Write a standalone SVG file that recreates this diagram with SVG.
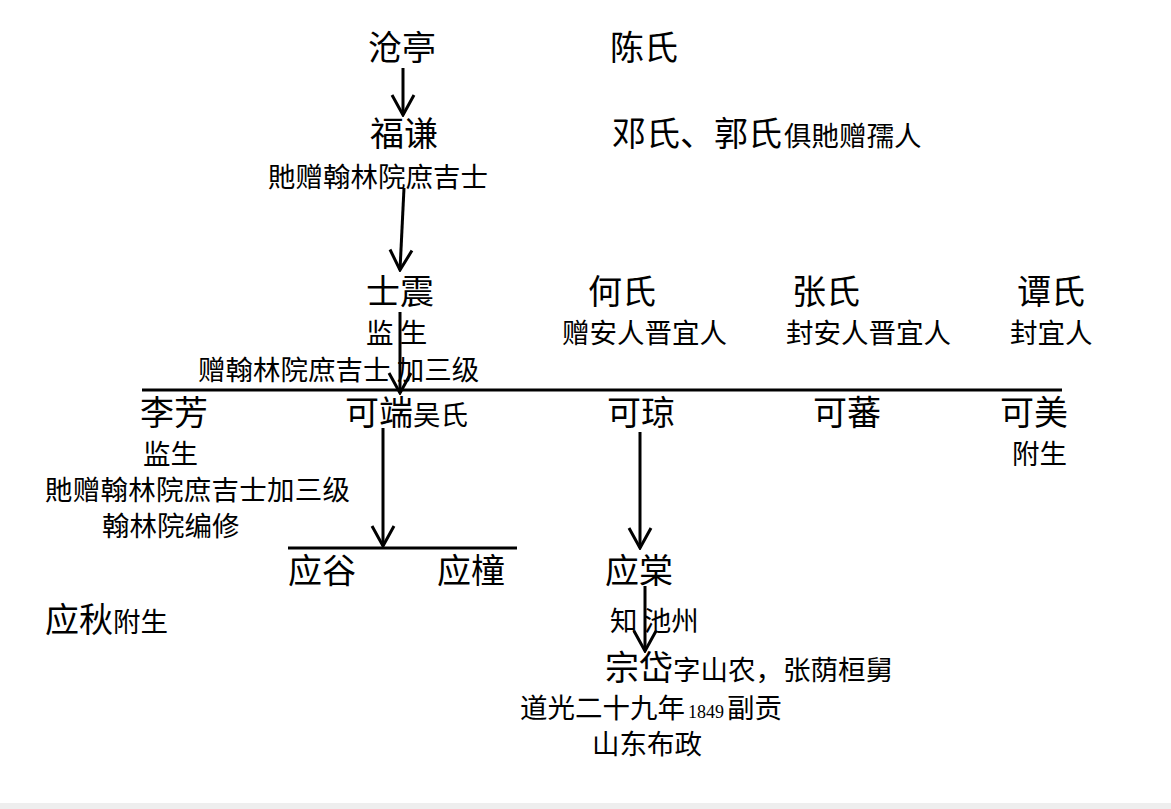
<svg xmlns="http://www.w3.org/2000/svg" width="1171" height="809" viewBox="0 0 1171 809">
<defs>
<style>
text{font-family:"Noto Sans CJK SC","Liberation Serif",serif;fill:#000}
.b{font-size:34px}
.s{font-size:27.5px}
.t{font-size:18px;font-family:"Liberation Serif",serif}
.c line,.c path{stroke:#000;stroke-width:3;fill:none}
</style>
<marker id="a" viewBox="0 0 24 26" refX="22" refY="13" markerWidth="24" markerHeight="26" markerUnits="userSpaceOnUse" orient="auto">
<path d="M2,2 L22,13 L2,24" stroke="#000" stroke-width="3" fill="none"/>
</marker>
</defs>
<rect width="1171" height="809" fill="#fff"/>
<rect x="0" y="803" width="1171" height="6" fill="#eeeeee"/>
<g class="c" id="connectors">
<line x1="142" y1="390" x2="1062" y2="390" stroke-width="4"/>
<line x1="288" y1="548" x2="517" y2="548" stroke-width="4"/>
<path d="M403,68 V115" marker-end="url(#a)"/>
<path d="M404,188 L400,270" marker-end="url(#a)"/>
<path d="M400,312 V393" marker-end="url(#a)"/>
<path d="M383,428 V546" marker-end="url(#a)"/>
<path d="M640,432 V548" marker-end="url(#a)"/>
<path d="M645,586 V651" marker-end="url(#a)"/>
</g>
<g id="n1"><text class="b" x="368" y="60">沧亭</text></g>
<g id="n2"><text class="b" x="610" y="60">陈氏</text></g>
<g id="n3"><text class="b" x="370" y="146">福谦</text><text class="s" x="268" y="187">貤赠翰林院庶吉士</text></g>
<g id="n4"><text class="b" x="612" y="146">邓氏、郭氏<tspan class="s" dx="2">俱貤赠孺人</tspan></text></g>
<g id="n5"><text class="b" x="366" y="304">士震</text><text class="s" x="366" y="343">监 生</text><text class="s" x="198" y="380">赠翰林院庶吉士 加三级</text></g>
<g id="n6"><text class="b" x="588" y="304">何氏</text><text class="s" x="562" y="343">赠安人晋宜人</text></g>
<g id="n7"><text class="b" x="792" y="304">张氏</text><text class="s" x="786" y="343">封安人晋宜人</text></g>
<g id="n8"><text class="b" x="1017" y="304">谭氏</text><text class="s" x="1010" y="343">封宜人</text></g>
<g id="n9"><text class="b" x="140" y="425">李芳</text><text class="s" x="143" y="464">监生</text><text class="s" x="45" y="500" textLength="305">貤赠翰林院庶吉士加三级</text><text class="s" x="102" y="536">翰林院编修</text></g>
<g id="n10"><text class="b" x="345" y="425">可端<tspan class="s">吴氏</tspan></text></g>
<g id="n11"><text class="b" x="607" y="425">可琼</text></g>
<g id="n12"><text class="b" x="813" y="425">可蕃</text></g>
<g id="n13"><text class="b" x="1000" y="425">可美</text><text class="s" x="1012" y="464">附生</text></g>
<g id="n14"><text class="b" x="288" y="583">应谷</text></g>
<g id="n15"><text class="b" x="437" y="583">应橦</text></g>
<g id="n16"><text class="b" x="605" y="583">应棠</text><text class="s" x="610" y="631">知 池州</text></g>
<g id="n17"><text class="b" x="45" y="632">应秋<tspan class="s">附生</tspan></text></g>
<g id="n18"><text class="b" x="605" y="680">宗岱<tspan class="s">字山农，张荫桓舅</tspan></text><text class="s" x="520" y="718">道光二十九年<tspan class="t" dx="3">1849</tspan><tspan dx="3">副贡</tspan></text><text class="s" x="592" y="754">山东布政</text></g>
</svg>
